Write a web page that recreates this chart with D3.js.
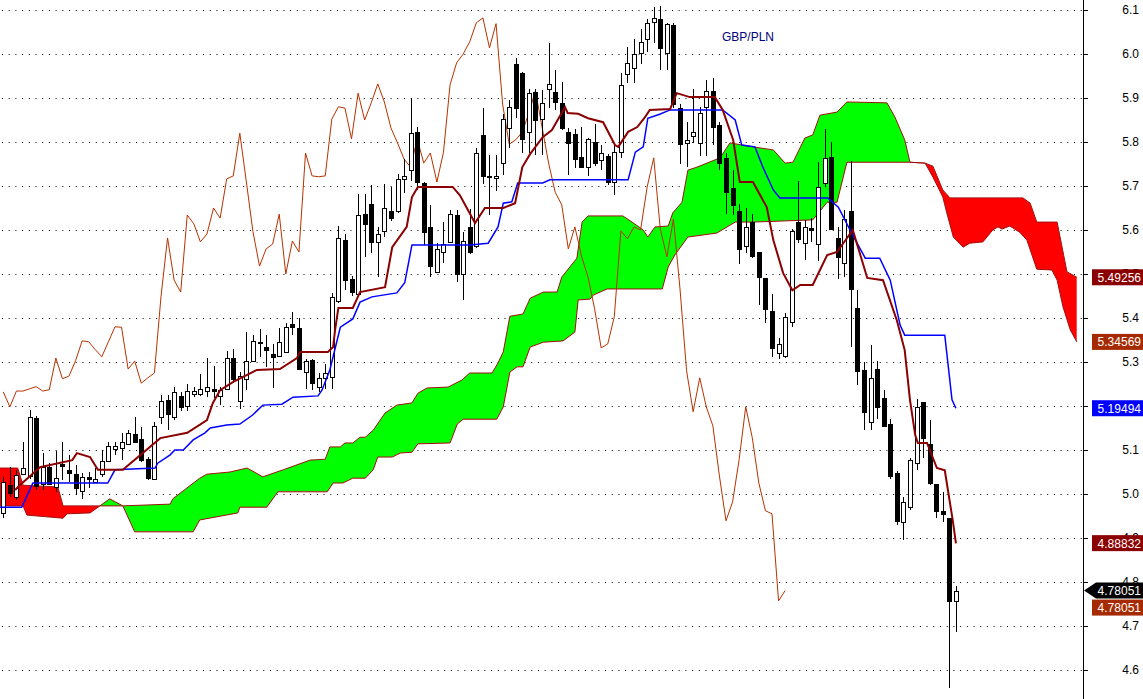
<!DOCTYPE html>
<html><head><meta charset="utf-8">
<script src="https://cdn.jsdelivr.net/npm/d3@7"></script>
<style>body{margin:0;background:#fff}svg{display:block;font-family:"Liberation Sans",Arial,sans-serif}</style>
</head><body><svg id="c" width="1143" height="699"></svg>
<script>
const title = "GBP/PLN";
const open = [4.957,5.021,4.994,5.046,5.041,5.173,5.023,5.062,5.016,5.069,5.055,5.046,5.007,5.039,5.028,5.046,5.075,5.103,5.105,5.114,5.137,5.125,5.080,5.034,5.175,5.214,5.175,5.223,5.200,5.228,5.228,5.234,5.239,5.223,5.239,5.309,5.212,5.262,5.303,5.344,5.334,5.318,5.314,5.323,5.386,5.377,5.277,5.305,5.244,5.264,5.266,5.439,5.577,5.489,5.455,5.637,5.660,5.573,5.598,5.643,5.643,5.716,5.736,5.822,5.707,5.607,5.505,5.550,5.573,5.634,5.500,5.607,5.564,5.816,5.723,5.718,5.752,5.832,5.977,5.957,5.823,5.914,5.852,5.921,5.914,5.889,5.823,5.818,5.766,5.743,5.800,5.759,5.768,5.709,5.777,5.955,5.968,6.003,6.034,6.073,6.080,6.003,6.066,5.877,5.798,5.814,5.798,5.880,5.916,5.839,5.764,5.696,5.643,5.564,5.618,5.550,5.491,5.416,5.321,5.314,5.391,5.618,5.571,5.605,5.568,5.707,5.766,5.582,5.525,5.643,5.423,5.282,5.164,5.284,5.218,5.159,5.048,4.937,4.971,5.071,5.209,5.114,5.023,4.962,4.946,4.757];
const high = [5.039,5.062,5.055,5.118,5.191,5.177,5.093,5.071,5.098,5.118,5.089,5.066,5.048,5.050,5.059,5.100,5.118,5.118,5.139,5.146,5.175,5.153,5.084,5.164,5.225,5.225,5.244,5.232,5.250,5.244,5.273,5.309,5.291,5.244,5.325,5.330,5.277,5.368,5.362,5.375,5.362,5.341,5.378,5.389,5.414,5.400,5.307,5.307,5.275,5.296,5.457,5.609,5.591,5.496,5.682,5.682,5.702,5.607,5.705,5.698,5.727,5.761,5.900,5.834,5.709,5.657,5.571,5.618,5.646,5.646,5.596,5.648,5.787,5.877,5.771,5.771,5.863,5.896,5.991,5.959,5.920,5.920,5.918,6.025,5.964,5.936,5.832,5.829,5.834,5.809,5.841,5.793,5.773,5.793,5.957,6.016,6.034,6.057,6.080,6.107,6.109,6.071,6.071,5.886,5.845,5.920,5.880,5.941,5.945,5.845,5.775,5.736,5.659,5.650,5.636,5.550,5.491,5.455,5.355,5.412,5.602,5.711,5.623,5.627,5.755,5.830,5.800,5.607,5.646,5.757,5.464,5.300,5.339,5.302,5.237,5.171,5.053,4.994,5.082,5.216,5.209,5.168,5.023,5.005,4.946,4.790];
const low = [4.946,4.994,4.987,5.044,5.035,5.009,5.009,5.021,5.005,5.032,5.028,4.998,4.989,5.014,5.025,5.039,5.073,5.089,5.078,5.112,5.118,5.073,5.032,5.032,5.160,5.146,5.168,5.189,5.189,5.221,5.223,5.221,5.219,5.202,5.237,5.253,5.193,5.237,5.300,5.312,5.289,5.241,5.312,5.321,5.361,5.282,5.239,5.237,5.232,5.239,5.239,5.434,5.464,5.450,5.450,5.539,5.548,5.493,5.584,5.621,5.639,5.684,5.711,5.691,5.566,5.493,5.503,5.525,5.571,5.482,5.441,5.546,5.559,5.705,5.634,5.689,5.725,5.787,5.855,5.775,5.775,5.770,5.770,5.877,5.873,5.828,5.725,5.741,5.743,5.723,5.746,5.736,5.702,5.680,5.764,5.934,5.934,5.977,6.005,6.025,5.964,5.964,5.877,5.750,5.743,5.798,5.768,5.768,5.793,5.736,5.636,5.634,5.523,5.548,5.537,5.430,5.389,5.312,5.307,5.310,5.380,5.571,5.532,5.573,5.530,5.698,5.600,5.489,5.493,5.334,5.248,5.146,5.146,5.171,5.155,5.034,4.930,4.896,4.964,5.055,5.082,5.021,4.946,4.937,4.560,4.686];
const close = [5.028,5.003,5.044,5.060,5.175,5.019,5.062,5.023,5.037,5.064,5.048,5.014,5.039,5.034,5.034,5.075,5.109,5.109,5.118,5.139,5.118,5.078,5.037,5.155,5.212,5.182,5.232,5.198,5.234,5.234,5.239,5.244,5.234,5.237,5.309,5.262,5.268,5.303,5.348,5.346,5.328,5.312,5.346,5.380,5.379,5.284,5.302,5.252,5.264,5.275,5.448,5.582,5.486,5.459,5.634,5.614,5.573,5.591,5.650,5.627,5.716,5.723,5.820,5.709,5.596,5.518,5.557,5.568,5.636,5.500,5.575,5.550,5.775,5.723,5.721,5.723,5.852,5.880,5.877,5.807,5.911,5.850,5.889,5.932,5.891,5.832,5.798,5.761,5.743,5.807,5.752,5.775,5.709,5.777,5.930,5.980,6.000,6.028,6.071,6.082,6.014,6.069,5.886,5.795,5.805,5.823,5.866,5.916,5.834,5.752,5.686,5.657,5.557,5.607,5.541,5.493,5.421,5.332,5.341,5.403,5.598,5.580,5.607,5.600,5.698,5.764,5.602,5.539,5.625,5.466,5.280,5.187,5.264,5.198,5.155,5.041,4.939,4.982,5.078,5.198,5.128,5.025,4.962,4.955,4.757,4.7805];
const chikouShift = 26;
// [bar index, price]
const tenkan = [[1.8,5.009],[2.5,5.020],[5.6,5.061],[10.5,5.077],[11.2,5.093],[13.2,5.084],[14.4,5.055],[18.2,5.055],[23.9,5.127],[28.0,5.139],[31.0,5.168],[31.9,5.207],[33.0,5.236],[35.0,5.255],[38.6,5.282],[42.1,5.284],[44.7,5.309],[45.2,5.323],[49.4,5.323],[50.2,5.334],[50.5,5.373],[51.0,5.423],[53.2,5.423],[54.3,5.459],[58.1,5.470],[59.2,5.561],[61.4,5.607],[62.2,5.675],[63.1,5.698],[68.4,5.698],[69.5,5.679],[71.8,5.616],[73.3,5.650],[76.1,5.650],[77.9,5.661],[79.0,5.743],[80.2,5.773],[82.1,5.811],[83.5,5.827],[85.5,5.879],[85.9,5.866],[87.5,5.864],[89.0,5.854],[91.3,5.845],[93.1,5.793],[93.6,5.789],[95.1,5.823],[96.5,5.834],[97.7,5.857],[98.4,5.873],[101.5,5.875],[102.5,5.911],[104.5,5.902],[108.3,5.902],[109.5,5.873],[111.1,5.804],[112.1,5.709],[114.1,5.709],[116.2,5.652],[117.2,5.577],[118.7,5.502],[120.1,5.463],[121.3,5.475],[123.2,5.475],[125.4,5.543],[126.9,5.550],[129.3,5.600],[131.5,5.491],[133.9,5.486],[136.0,5.395],[137.2,5.327],[138.0,5.214],[138.8,5.134],[139.2,5.116],[140.6,5.116],[142.1,5.059],[143.3,5.054],[144.5,4.941],[145,4.888]];
const kijun = [[-0.5,4.970],[2.8,4.970],[3.3,4.986],[4.5,5.025],[15.9,5.025],[17.0,5.055],[23.1,5.059],[23.5,5.070],[25.4,5.089],[26.1,5.100],[27.4,5.100],[28.9,5.123],[30.7,5.139],[31.5,5.150],[34.0,5.157],[36.0,5.159],[37.9,5.179],[39.5,5.202],[42.4,5.204],[44.1,5.220],[47.9,5.223],[48.5,5.236],[49.7,5.282],[51.3,5.379],[53.2,5.398],[54.3,5.436],[56.1,5.448],[59.9,5.457],[61.1,5.480],[62.2,5.566],[71.0,5.566],[73.8,5.570],[75.3,5.607],[76.1,5.661],[77.4,5.664],[78.3,5.707],[82.1,5.707],[83.2,5.714],[95.1,5.714],[96.2,5.777],[97.4,5.789],[98.1,5.854],[99.9,5.863],[101.5,5.873],[109.5,5.873],[111.4,5.850],[112.4,5.793],[114.4,5.789],[115.6,5.743],[117.2,5.691],[118.2,5.673],[125.5,5.673],[127.1,5.652],[129.3,5.588],[131.2,5.536],[133.4,5.536],[135.0,5.486],[136.5,5.384],[137.2,5.361],[143.3,5.361],[144.4,5.214],[145,5.195]];
const senkouA = [[-0.5,4.973],[3.0,4.973],[3.6,4.952],[9.1,4.945],[9.7,4.955],[13.2,4.957],[14.7,4.973],[16.2,4.989],[18.2,4.973],[25.4,4.977],[25.8,4.989],[29.9,5.036],[31.0,5.045],[34.5,5.050],[37.1,5.059],[39.5,5.039],[42.6,5.055],[46.7,5.077],[49.0,5.079],[49.7,5.107],[51.3,5.107],[52.0,5.116],[53.2,5.116],[54.3,5.129],[55.1,5.129],[56.3,5.145],[58.1,5.184],[59.9,5.202],[62.2,5.207],[63.1,5.229],[64.5,5.241],[67.7,5.243],[69.8,5.259],[71.0,5.275],[74.4,5.275],[75.3,5.298],[76.1,5.323],[77.1,5.404],[79.1,5.409],[80.2,5.445],[82.2,5.459],[84.3,5.459],[85.0,5.493],[87.3,5.536],[88.1,5.618],[89.0,5.632],[94.3,5.632],[95.7,5.618],[97.4,5.600],[98.1,5.584],[99.2,5.607],[101.2,5.609],[101.9,5.639],[103.3,5.663],[104.2,5.736],[105.6,5.743],[109.1,5.764],[110.6,5.798],[114.1,5.789],[117.2,5.782],[119.0,5.752],[120.2,5.754],[122.0,5.809],[123.2,5.816],[124.3,5.861],[126.9,5.868],[128.4,5.891],[134.5,5.889],[135.7,5.857],[137.2,5.805],[138.0,5.754],[140.3,5.752],[141.5,5.720],[143.0,5.675],[143.6,5.639],[144.6,5.584],[146.1,5.561],[147.1,5.570],[149.1,5.573],[150.6,5.600],[151.4,5.607],[152.0,5.602],[153.2,5.609],[154.7,5.595],[155.8,5.577],[157.3,5.511],[159.6,5.509],[160.4,5.486],[161.3,5.425],[162.4,5.373],[163.4,5.3457]];
const senkouB = [[-0.5,5.059],[2.2,5.059],[3.0,5.020],[8.3,5.016],[9.1,4.973],[14.7,4.973],[18.2,4.973],[20.0,4.914],[28.9,4.914],[29.9,4.941],[35.7,4.957],[36.0,4.970],[40.1,4.970],[41.8,5.005],[49.3,5.005],[50.2,5.025],[51.7,5.025],[53.2,5.036],[55.1,5.036],[56.3,5.055],[57.0,5.084],[59.2,5.084],[60.4,5.093],[62.2,5.095],[63.1,5.114],[68.0,5.116],[69.1,5.159],[70.0,5.170],[75.1,5.170],[76.1,5.198],[77.1,5.277],[78.2,5.289],[79.1,5.289],[80.2,5.334],[82.2,5.345],[85.2,5.348],[87.0,5.368],[87.5,5.441],[89.3,5.443],[89.8,5.452],[91.9,5.466],[100.3,5.466],[101.2,5.516],[102.2,5.543],[104.2,5.584],[108.6,5.593],[111.4,5.618],[114.1,5.618],[123.2,5.623],[125.4,5.663],[126.9,5.663],[128.4,5.754],[138.0,5.754],[140.3,5.752],[141.5,5.745],[143.0,5.691],[144.1,5.673],[155.2,5.673],[156.3,5.661],[157.3,5.618],[160.4,5.618],[161.9,5.505],[163.4,5.4926]];
const yTicks = [4.6,4.7,4.8,4.9,5.0,5.1,5.2,5.3,5.4,5.5,5.6,5.7,5.8,5.9,6.0,6.1];
const valueLabels = [
  {v:5.49256, txt:"5.49256", bg:"#8b0000"},
  {v:5.34569, txt:"5.34569", bg:"#a52a00"},
  {v:5.19494, txt:"5.19494", bg:"#0000ff"},
  {v:4.88832, txt:"4.88832", bg:"#8b0000"},
  {v:4.78051, txt:"4.78051", bg:"#000000", arrow:true},
  {v:4.78051, txt:"4.78051", bg:"#a52a00", offset:17}
];

const svg = d3.select("#c");
const W=1143,H=699, axisX=1083;
const x = d3.scaleLinear().domain([0,145]).range([3.3,3.3+145*6.57]);
const y = d3.scaleLinear().domain([4.6,6.1]).range([670,10]);

svg.append("g").selectAll("line").data(yTicks).join("line")
  .attr("x1",2).attr("x2",axisX).attr("y1",d=>Math.round(y(d))+0.5).attr("y2",d=>Math.round(y(d))+0.5)
  .attr("stroke","#000").attr("stroke-dasharray","1,5.7");

const line = d3.line().x(d=>x(d[0])).y(d=>y(d[1]));
const polyPath = line(senkouA) + "L" + senkouB.slice().reverse().map(d=>x(d[0])+","+y(d[1])).join("L") + "Z";
const bFirst=senkouB[0], bLast=senkouB[senkouB.length-1];
const aboveB = "M"+x(bFirst[0])+",-10L"+senkouB.map(d=>x(d[0])+","+y(d[1])).join("L")+"L"+x(bLast[0])+",-10Z";
const belowB = "M"+x(bFirst[0])+","+(H+10)+"L"+senkouB.map(d=>x(d[0])+","+y(d[1])).join("L")+"L"+x(bLast[0])+","+(H+10)+"Z";
const defs = svg.append("defs");
defs.append("clipPath").attr("id","ab").append("path").attr("d",aboveB);
defs.append("clipPath").attr("id","bb").append("path").attr("d",belowB);
svg.append("path").attr("d",polyPath).attr("fill","#00ff00").attr("clip-path","url(#ab)");
svg.append("path").attr("d",polyPath).attr("fill","#ff0000").attr("clip-path","url(#bb)");
svg.append("path").attr("d",line(senkouA)).attr("fill","none").attr("stroke","#a01010").attr("stroke-width",1);
svg.append("path").attr("d",line(senkouB)).attr("fill","none").attr("stroke","#a01010").attr("stroke-width",1);

const chikou = close.slice(chikouShift).map((c,i)=>[i,c]);
svg.append("path").attr("d",line(chikou)).attr("fill","none").attr("stroke","#b83200").attr("stroke-width",1);

const idx = d3.range(close.length);
const cg = svg.append("g").attr("shape-rendering","crispEdges");
cg.selectAll("line").data(idx).join("line")
  .attr("x1",i=>Math.round(x(i))+0.5).attr("x2",i=>Math.round(x(i))+0.5)
  .attr("y1",i=>Math.round(y(high[i]))).attr("y2",i=>Math.round(y(low[i]))).attr("stroke","#000").attr("stroke-width",1);
cg.selectAll("rect").data(idx).join("rect")
  .attr("x",i=>Math.round(x(i))-1.5).attr("width",4)
  .attr("y",i=>Math.round(y(Math.max(open[i],close[i])))+0.5)
  .attr("height",i=>Math.max(1,Math.round(Math.abs(y(open[i])-y(close[i])))))
  .attr("fill",i=>close[i]>=open[i]?"#fff":"#000").attr("stroke","#000").attr("stroke-width",1);

svg.append("path").attr("d",line(kijun)).attr("fill","none").attr("stroke","#0000ff").attr("stroke-width",1.5);
svg.append("path").attr("d",line(tenkan)).attr("fill","none").attr("stroke","#8b0000").attr("stroke-width",2);

svg.append("line").attr("x1",axisX+0.5).attr("x2",axisX+0.5).attr("y1",0).attr("y2",H).attr("stroke","#000");
const ax = svg.append("g").attr("transform",`translate(${axisX},0)`)
  .call(d3.axisRight(y).tickValues(yTicks).tickSize(5).tickFormat(d3.format(".1f")));
ax.select(".domain").remove();
ax.selectAll("line").attr("stroke","#000");
ax.selectAll("text").attr("x",56).attr("text-anchor","end").attr("font-size",12).attr("fill","#000")
  .attr("font-family","Liberation Sans, Arial, sans-serif");

valueLabels.forEach(l=>{
  const cy = y(l.v)+(l.offset||0);
  const g = svg.append("g");
  if(l.arrow){
    g.append("path").attr("d",`M${axisX+1},${cy}L${axisX+13},${cy-8}L${W},${cy-8}L${W},${cy+8}L${axisX+13},${cy+8}Z`).attr("fill",l.bg);
  } else {
    g.append("rect").attr("x",axisX+9).attr("y",cy-8).attr("width",W-axisX-9).attr("height",16).attr("fill",l.bg);
  }
  g.append("text").attr("x",W-2).attr("y",cy+4.5).attr("text-anchor","end").attr("fill","#fff")
    .attr("font-size",12).text(l.txt);
});

svg.append("text").attr("x",722).attr("y",41).attr("fill","#000080").attr("font-size",12).text(title);
</script></body></html>
